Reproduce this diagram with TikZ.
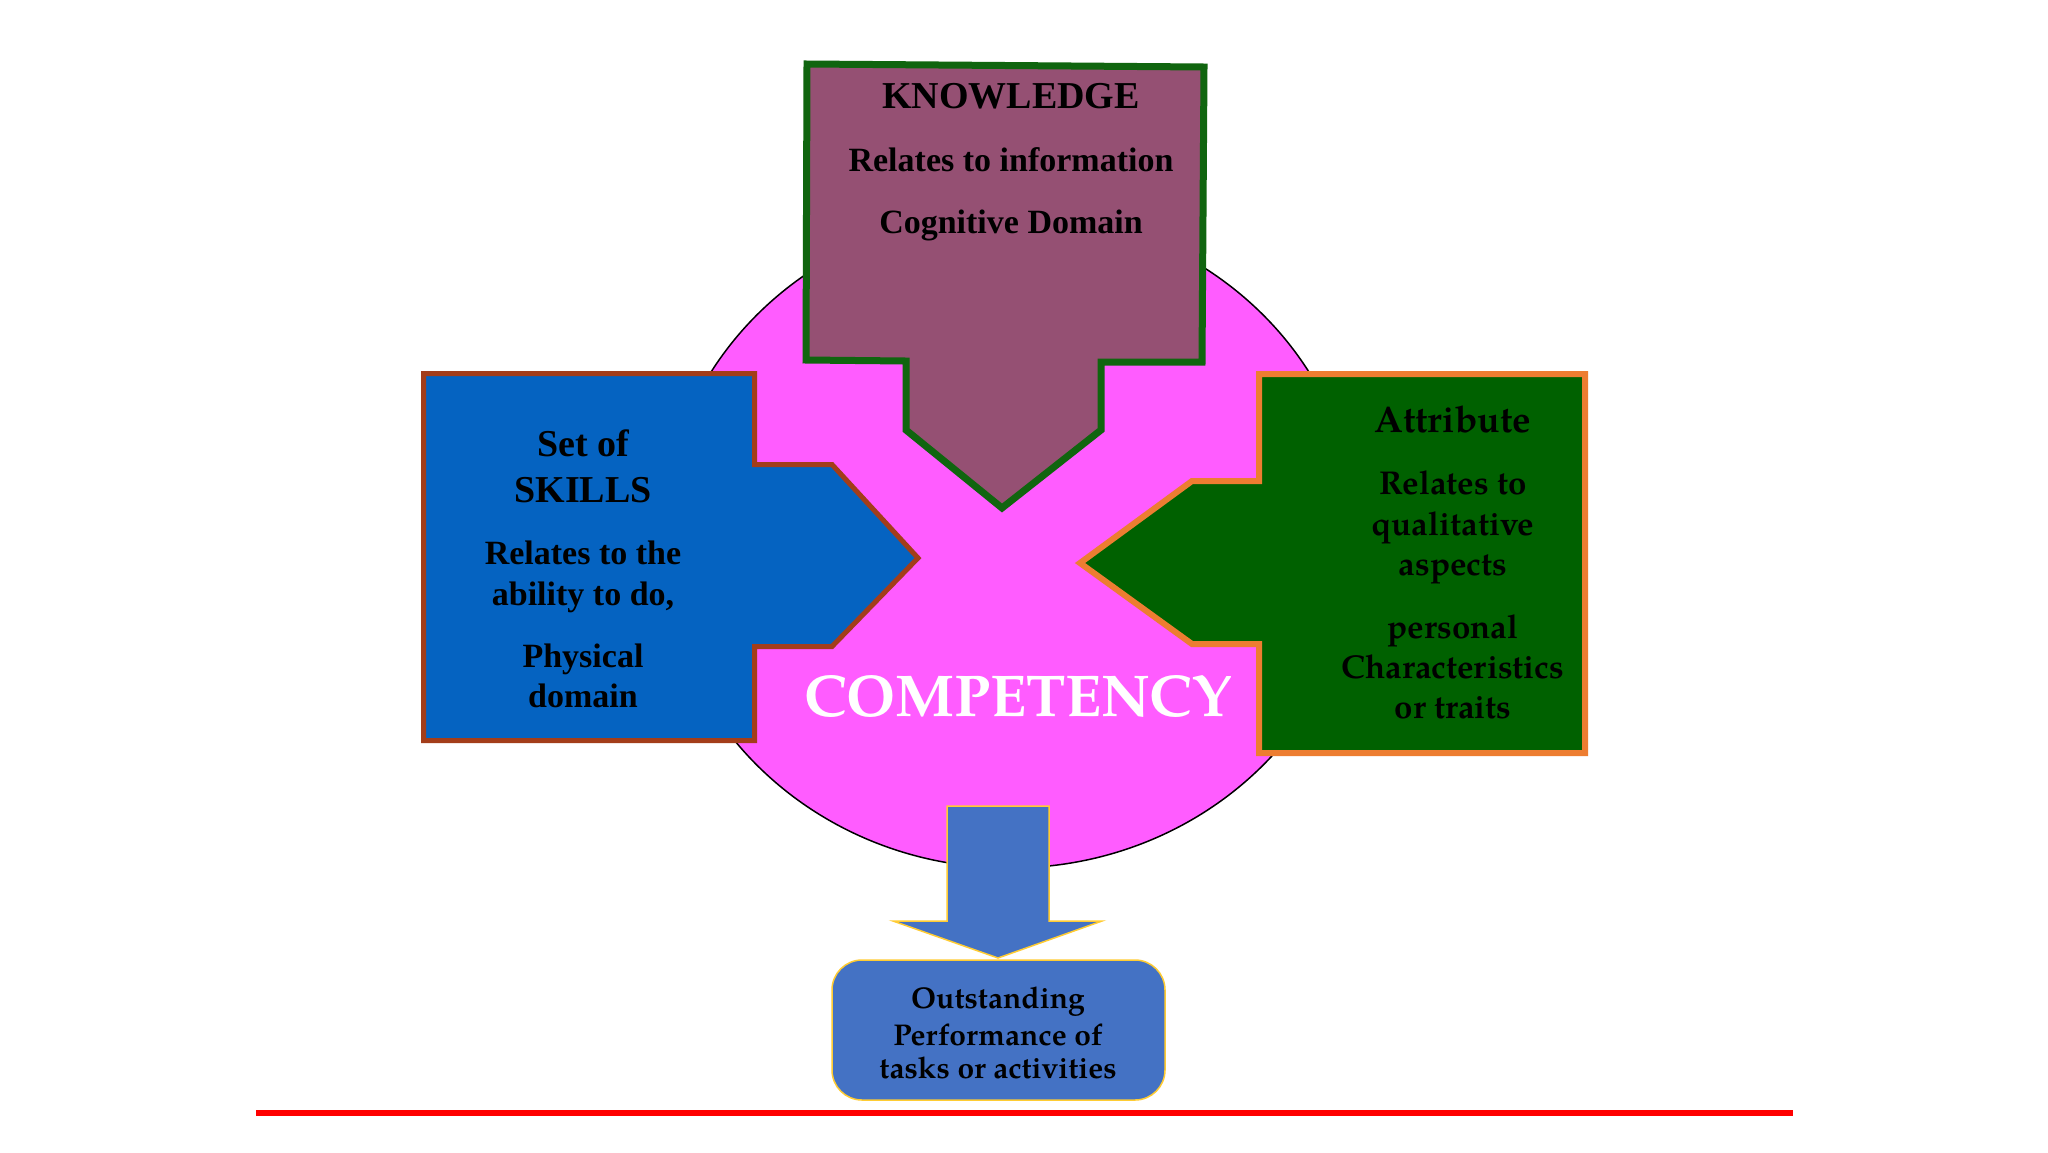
\documentclass[tikz,border=0pt]{standalone}
\usepackage{fontspec}
\setmainfont{Liberation Serif}
\newfontfamily\pal[Extension=.otf,UprightFont=*-regular,BoldFont=*-bold]{texgyrepagella}
\definecolor{pinkc}{RGB}{255,92,255}
\definecolor{knowfill}{RGB}{149,80,115}
\definecolor{knowline}{RGB}{16,101,15}
\definecolor{skillfill}{RGB}{5,99,193}
\definecolor{skillline}{RGB}{163,61,26}
\definecolor{attrfill}{RGB}{0,97,0}
\definecolor{attrline}{RGB}{237,125,49}
\definecolor{perfblue}{RGB}{68,114,196}
\definecolor{goldline}{RGB}{255,204,51}
\tikzset{
  tline/.style={anchor=base, inner sep=0pt, font=\bfseries\fontsize{34}{36}\selectfont},
  thead/.style={anchor=base, inner sep=0pt, font=\bfseries\fontsize{38}{40}\selectfont},
  pline/.style={anchor=base, inner sep=0pt, font=\pal\bfseries\fontsize{33}{35}\selectfont},
  phead/.style={anchor=base, inner sep=0pt, font=\pal\bfseries\fontsize{37}{39}\selectfont},
  oline/.style={anchor=base, inner sep=0pt, font=\pal\bfseries\fontsize{30}{32}\selectfont},
}
\begin{document}
\begin{tikzpicture}[x=1pt,y=-1pt]
\useasboundingbox[fill=white] (0,0) rectangle (2048,1152);
% central ellipse
\path[fill=pinkc, draw=black, line width=1.5pt] (1010,540) ellipse [x radius=348pt, y radius=328pt];
\coordinate (center) at (1010,540);
% knowledge
\path[fill=knowfill, draw=knowline, line width=7pt, line join=miter]
  (807,64) -- (1204,67) -- (1202,362) -- (1101,362) -- (1101,430) -- (1002,508)
  -- (906,430) -- (906,361) -- (806,360) -- cycle;
\node[thead] (k1) at (1011,108) {KNOWLEDGE};
\node[tline] (k2) at (1011,171) {Relates to information};
\node[tline] (k3) at (1011,233) {Cognitive Domain};
% skills
\path[fill=skillfill, draw=skillline, line width=5pt, line join=miter]
  (423.5,373.5) -- (754.5,373.5) -- (754.5,464.5) -- (832,464.5) -- (918,558)
  -- (832,646.5) -- (754.5,646.5) -- (754.5,740.5) -- (423.5,740.5) -- cycle;
\node[thead] (s1) at (583,456) {Set of};
\node[thead] (s2) at (583,502) {SKILLS};
\node[tline] (s3) at (583,564) {Relates to the};
\node[tline] (s4) at (583,605) {ability to do,};
\node[tline] (s5) at (583,667) {Physical};
\node[tline] (s6) at (583,707) {domain};
% attribute
\path[fill=attrfill, draw=attrline, line width=6pt, line join=miter]
  (1585,374) -- (1259,374) -- (1259,481) -- (1192,481) -- (1080,563)
  -- (1192,644) -- (1259,644) -- (1259,753) -- (1585,753) -- cycle;
\node[phead] (a1) at (1453,432) {Attribute};
\node[pline] (a2) at (1453,494) {Relates to};
\node[pline] (a3) at (1453,535) {qualitative};
\node[pline] (a4) at (1453,575) {aspects};
\node[pline] (a5) at (1453,638) {personal};
\node[pline] (a6) at (1453,678) {Characteristics};
\node[pline] (a7) at (1453,718) {or traits};
% competency
\node[anchor=base, inner sep=0pt, text=white, font=\pal\bfseries\fontsize{59}{61}\selectfont] (comp) at (1018,716) {COMPETENCY};
% down block arrow
\path[fill=perfblue, draw=goldline, line width=1.5pt, line join=miter]
  (947,806) -- (1049,806) -- (1049,921) -- (1102,921) -- (998,958)
  -- (893,921) -- (947,921) -- cycle;
% outcome box
\node[draw=goldline, fill=perfblue, line width=1.5pt, rounded corners=30pt,
  minimum width=333pt, minimum height=140pt, inner sep=0pt] (perf) at (998.5,1030) {};
\node[oline] (o1) at (998,1008) {Outstanding};
\node[oline] (o2) at (998,1045) {Performance of};
\node[oline] (o3) at (998,1078) {tasks or activities};
% red rule
\coordinate (rl) at (256,1113);
\coordinate (rr) at (1793,1113);
\draw[red, line width=6pt] (rl) -- (rr);
\end{tikzpicture}
\end{document}
